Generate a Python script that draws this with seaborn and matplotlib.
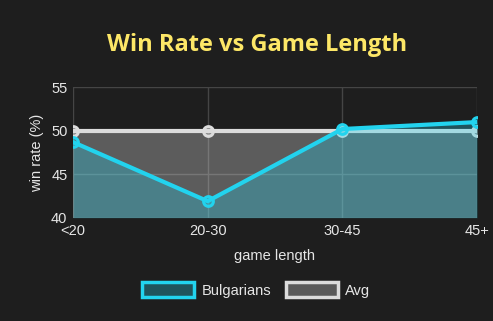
import matplotlib
matplotlib.use("Agg")
import matplotlib.pyplot as plt
import seaborn as sns
import pandas as pd
from matplotlib.patches import Patch

categories = ["<20", "20-30", "30-45", "45+"]
bulgarians = [48.7, 41.9, 50.2, 51.0]
avg = [50.0, 50.0, 50.0, 50.0]
y_ticks = [40, 45, 50, 55]

BG = "#1e1e1e"
CYAN = "#22d3ee"
GRAY = "#dcdcdc"
TXT = "#e6e6e6"

sns.set_theme(style="dark")
plt.rcParams["font.family"] = ["Liberation Sans", "DejaVu Sans"]

fig = plt.figure(figsize=(4.93, 3.21), dpi=100, facecolor=BG)
ax = fig.add_axes([73 / 493, (321 - 217.7) / 321, 404 / 493, 130.4 / 321])
ax.set_facecolor(BG)

df = pd.DataFrame({"x": list(range(len(categories))), "b": bulgarians, "a": avg})

# Avg
ax.fill_between(df["x"], 40, df["a"], color=GRAY, alpha=0.33, lw=0, zorder=2)
sns.lineplot(data=df, x="x", y="a", ax=ax, color=GRAY, lw=3, marker="o",
             markersize=7, markeredgewidth=2.2, markeredgecolor=GRAY,
             markerfacecolor=(0.86, 0.86, 0.86, 0.35), zorder=3, legend=False)
# Bulgarians
ax.fill_between(df["x"], 40, df["b"], color=CYAN, alpha=0.3, lw=0, zorder=4)
sns.lineplot(data=df, x="x", y="b", ax=ax, color=CYAN, lw=3, marker="o",
             markersize=7, markeredgewidth=2.2, markeredgecolor=CYAN,
             markerfacecolor=(0.133, 0.827, 0.933, 0.3), zorder=5, legend=False)

ax.set_xlim(0, len(categories) - 1)
ax.set_ylim(40, 55)
ax.set_xticks(range(len(categories)))
ax.set_xticklabels(categories)
ax.set_yticks(y_ticks)
ax.set_axisbelow(True)
ax.grid(True, color="#454545", lw=1)
for s in ax.spines.values():
    s.set_visible(False)
ax.tick_params(axis="both", colors=TXT, labelsize=10.5, length=0)
for lab in ax.get_xticklabels():
    lab.set_color(TXT)
for lab in ax.get_yticklabels():
    lab.set_color(TXT)
ax.tick_params(axis="y", pad=4)
ax.tick_params(axis="x", pad=4.5)

ax.set_xlabel("game length", color=TXT, fontsize=10.5, labelpad=8)
ax.set_ylabel("win rate (%)", color=TXT, fontsize=10.5, labelpad=5)

fig.text(257 / 493, 1 - 45 / 321, "Win Rate vs Game Length", ha="center", va="center",
         color="#fde767", fontsize=17, fontweight="bold", family=["Open Sans", "DejaVu Sans"])

handles = [
    Patch(facecolor=(0.133, 0.827, 0.933, 0.3), edgecolor=CYAN, lw=2.5, label="Bulgarians"),
    Patch(facecolor="#5a5a5a", edgecolor=GRAY, lw=2.5, label="Avg"),
]
leg = fig.legend(handles=handles, loc="center", bbox_to_anchor=(256 / 493, 1 - 290 / 321),
                 ncol=2, frameon=False, fontsize=10.5, handlelength=3.6, handleheight=1.2,
                 columnspacing=1.0, handletextpad=0.5)
for t in leg.get_texts():
    t.set_color(TXT)

fig.savefig("out.png", dpi=100, facecolor=BG)
